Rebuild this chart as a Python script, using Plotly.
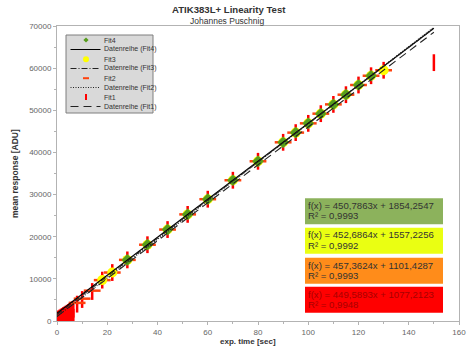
import plotly.graph_objects as go

# ---------------- data ----------------
fit4_x = [28, 36, 44, 52, 60, 70, 80, 90, 95, 100, 105, 110, 115, 120, 125]
fit4_y = [14500, 18100, 21700, 25300, 28900, 33400, 37900, 42400, 44700, 46900, 49200, 51400, 53700, 56000, 58200]

fit3_x = [18, 22] + fit4_x + [130]
fit3_y = [9700, 11500] + fit4_y + [59500]

fit2_x = [8, 10, 14] + fit3_x
fit2_y = [4300, 5300, 7200] + fit3_y

fit1_low_x = [0, 0.5, 1, 1.5, 2, 2.5, 3, 3.5, 4, 4.5, 5, 5.5, 6, 6.5,
              1, 1.5, 2, 2.5, 3, 3.5, 4, 4.5, 5, 5.5, 6, 6.5]
fit1_low_y = [300, 500, 700, 900, 1100, 1300, 1450, 1650, 1850, 2050, 2250, 2450, 2650, 2800,
              0, 0, 0, 0, 0, 0, 0, 100, 300, 500, 700, 900]
fit1_x = fit1_low_x + [8, 10, 14] + fit3_x + [150]
fit1_y = fit1_low_y + [4000, 5100, 7000] + fit3_y + [61300]

fit_names = ["Fit4", "Fit3", "Fit2", "Fit1"]
fit_slope = [450.7863, 452.6864, 457.3624, 449.5893]
fit_intercept = [1854.2547, 1557.2256, 1101.4287, 1077.2123]
fit_r2 = ["0,9993", "0,9992", "0,9993", "0,9948"]
fit_slope_txt = ["450,7863", "452,6864", "457,3624", "449,5893"]
fit_int_txt = ["1854,2547", "1557,2256", "1101,4287", "1077,2123"]
line_x_range = [0, 150]

x_ticks = [0, 20, 40, 60, 80, 100, 120, 140, 160]
y_ticks = [0, 10000, 20000, 30000, 40000, 50000, 60000, 70000]

# ---------------- styles ----------------
FONT = "Liberation Sans, Arial, sans-serif"
box_colors = ["#8cb25c", "#eaff12", "#ff8c1a", "#ff0000"]
box_text_colors = ["#333333", "#333333", "#333333", "#a80000"]
line_dash = ["solid", "6px,2px,1px,2px", "1px,1.5px", "8px,5px"]
line_colors = ["#000000", "#222222", "#222222", "#222222"]

W, H = 474, 352
L, R, T, B = 57, 15, 26, 31
PW, PH = W - L - R, H - T - B


def px(x):
    return (x - L) / PW


def py(y):
    return (H - B - y) / PH


fig = go.Figure()

# markers (Fit1 at the bottom, Fit4 on top)
fig.add_trace(go.Scatter(x=fit1_x, y=fit1_y, mode="markers", name="Fit1", showlegend=False,
                         marker=dict(symbol="line-ns", size=12,
                                     line=dict(color="#ff0000", width=2.5))))
fig.add_trace(go.Scatter(x=fit2_x, y=fit2_y, mode="markers", name="Fit2", showlegend=False,
                         marker=dict(symbol="line-ew", size=12,
                                     line=dict(color="#ff420e", width=2.5))))
fig.add_trace(go.Scatter(x=fit3_x, y=fit3_y, mode="markers", name="Fit3", showlegend=False,
                         marker=dict(symbol="circle", size=10, color="#ffff00",
                                     line=dict(width=0))))
fig.add_trace(go.Scatter(x=fit4_x, y=fit4_y, mode="markers", name="Fit4", showlegend=False,
                         marker=dict(symbol="diamond", size=9, color="#579d1c",
                                     line=dict(width=0))))

# fit lines
for i in range(4):
    ly = [fit_slope[i] * xx + fit_intercept[i] for xx in line_x_range]
    fig.add_trace(go.Scatter(x=line_x_range, y=ly, mode="lines",
                             name="Datenreihe (" + fit_names[i] + ")", showlegend=False,
                             line=dict(color=line_colors[i], width=1.1, dash=line_dash[i])))

shapes = []
annotations = []

# ---------- custom legend ----------
lg_x0, lg_x1, lg_y0, lg_y1 = 66, 153, 35, 113
shapes.append(dict(type="rect", xref="paper", yref="paper",
                   x0=px(lg_x0), x1=px(lg_x1), y0=py(lg_y0), y1=py(lg_y1),
                   fillcolor="#d9d9d9", line=dict(color="#7f7f7f", width=1), layer="above"))
row_y = [40, 49.5, 59.2, 68.5, 78.2, 87.5, 97, 106.5]
mx = 86
legend_labels = []
for i, n in enumerate(fit_names):
    legend_labels += [n, "Datenreihe (" + n + ")"]
for i, lab in enumerate(legend_labels):
    annotations.append(dict(x=px(101.5), y=py(row_y[i]), xref="paper", yref="paper",
                            text=lab, showarrow=False, xanchor="left", yanchor="middle",
                            font=dict(family=FONT, size=7, color="#333333")))
# legend line samples
for k in range(4):
    yy = py(row_y[2 * k + 1])
    shapes.append(dict(type="line", xref="paper", yref="paper", x0=px(70.5), x1=px(100.5),
                       y0=yy, y1=yy, layer="above",
                       line=dict(color=line_colors[k], width=1, dash=line_dash[k])))
# legend marker samples
cy = row_y[0]
shapes.append(dict(type="path", xref="paper", yref="paper", layer="above",
                   path="M {a},{b} L {c},{d} L {a},{e} L {f},{d} Z".format(
                       a=px(mx), b=py(cy - 2.6), c=px(mx + 2.6), d=py(cy), e=py(cy + 2.6), f=px(mx - 2.6)),
                   fillcolor="#579d1c", line=dict(width=0)))
cy = row_y[2]
shapes.append(dict(type="circle", xref="paper", yref="paper", layer="above",
                   x0=px(mx - 3), x1=px(mx + 3), y0=py(cy - 3), y1=py(cy + 3),
                   fillcolor="#ffff00", line=dict(width=0)))
cy = row_y[4]
shapes.append(dict(type="rect", xref="paper", yref="paper", layer="above",
                   x0=px(mx - 3), x1=px(mx + 3), y0=py(cy - 1), y1=py(cy + 1),
                   fillcolor="#ff420e", line=dict(width=0)))
cy = row_y[6]
shapes.append(dict(type="rect", xref="paper", yref="paper", layer="above",
                   x0=px(mx - 1), x1=px(mx + 1), y0=py(cy - 3), y1=py(cy + 3),
                   fillcolor="#ff0000", line=dict(width=0)))

# ---------- equation boxes ----------
box_top = [198.3, 227.7, 257.7, 286.7]
for i in range(4):
    shapes.append(dict(type="rect", xref="paper", yref="paper", layer="above",
                       x0=px(305), x1=px(443), y0=py(box_top[i]), y1=py(box_top[i] + 26),
                       fillcolor=box_colors[i], line=dict(width=0)))
    annotations.append(dict(x=px(306), y=py(box_top[i] + 7.3), xref="paper", yref="paper",
                            text="f(x) = " + fit_slope_txt[i] + "x + " + fit_int_txt[i],
                            showarrow=False, xanchor="left", yanchor="middle",
                            font=dict(family=FONT, size=9.6, color=box_text_colors[i])))
    annotations.append(dict(x=px(306), y=py(box_top[i] + 17.3), xref="paper", yref="paper",
                            text="R² = " + fit_r2[i],
                            showarrow=False, xanchor="left", yanchor="middle",
                            font=dict(family=FONT, size=9.6, color=box_text_colors[i])))

# ---------- titles ----------
annotations.append(dict(x=px(228.5), y=py(10), xref="paper", yref="paper",
                        text="<b>ATIK383L+ Linearity Test</b>", showarrow=False,
                        xanchor="center", yanchor="middle",
                        font=dict(family=FONT, size=9.6, color="#333333")))
annotations.append(dict(x=px(227), y=py(21), xref="paper", yref="paper",
                        text="Johannes Puschnig", showarrow=False,
                        xanchor="center", yanchor="middle",
                        font=dict(family=FONT, size=8.5, color="#333333")))
annotations.append(dict(x=px(248.3), y=py(341.5), xref="paper", yref="paper",
                        text="<b>exp. time [sec]</b>", showarrow=False,
                        xanchor="center", yanchor="middle",
                        font=dict(family=FONT, size=8, color="#333333")))
annotations.append(dict(x=px(15), y=py(174), xref="paper", yref="paper",
                        text="<b>mean response [ADU]</b>", showarrow=False, textangle=-90,
                        xanchor="center", yanchor="middle",
                        font=dict(family=FONT, size=8.5, color="#333333")))

axis_common = dict(showline=True, linecolor="#b3b3b3", linewidth=1, mirror=True,
                   showgrid=False, zeroline=False, ticks="outside", ticklen=3,
                   tickcolor="#b3b3b3", tickfont=dict(family=FONT, size=8, color="#666666"))

fig.update_layout(
    width=W, height=H,
    margin=dict(l=L, r=R, t=T, b=B),
    paper_bgcolor="white", plot_bgcolor="white",
    showlegend=False,
    xaxis=dict(range=[0, 160], tickvals=x_ticks, automargin=False, tickformat="d",
               minor=dict(ticks="outside", ticklen=2, tickcolor="#b3b3b3", dtick=10),
               **axis_common),
    yaxis=dict(range=[0, 70000], tickvals=y_ticks, automargin=False, tickformat="d",
               minor=dict(ticks="outside", ticklen=2, tickcolor="#b3b3b3", dtick=5000),
               **axis_common),
    shapes=shapes,
    annotations=annotations,
)

fig.write_html("out.html")
